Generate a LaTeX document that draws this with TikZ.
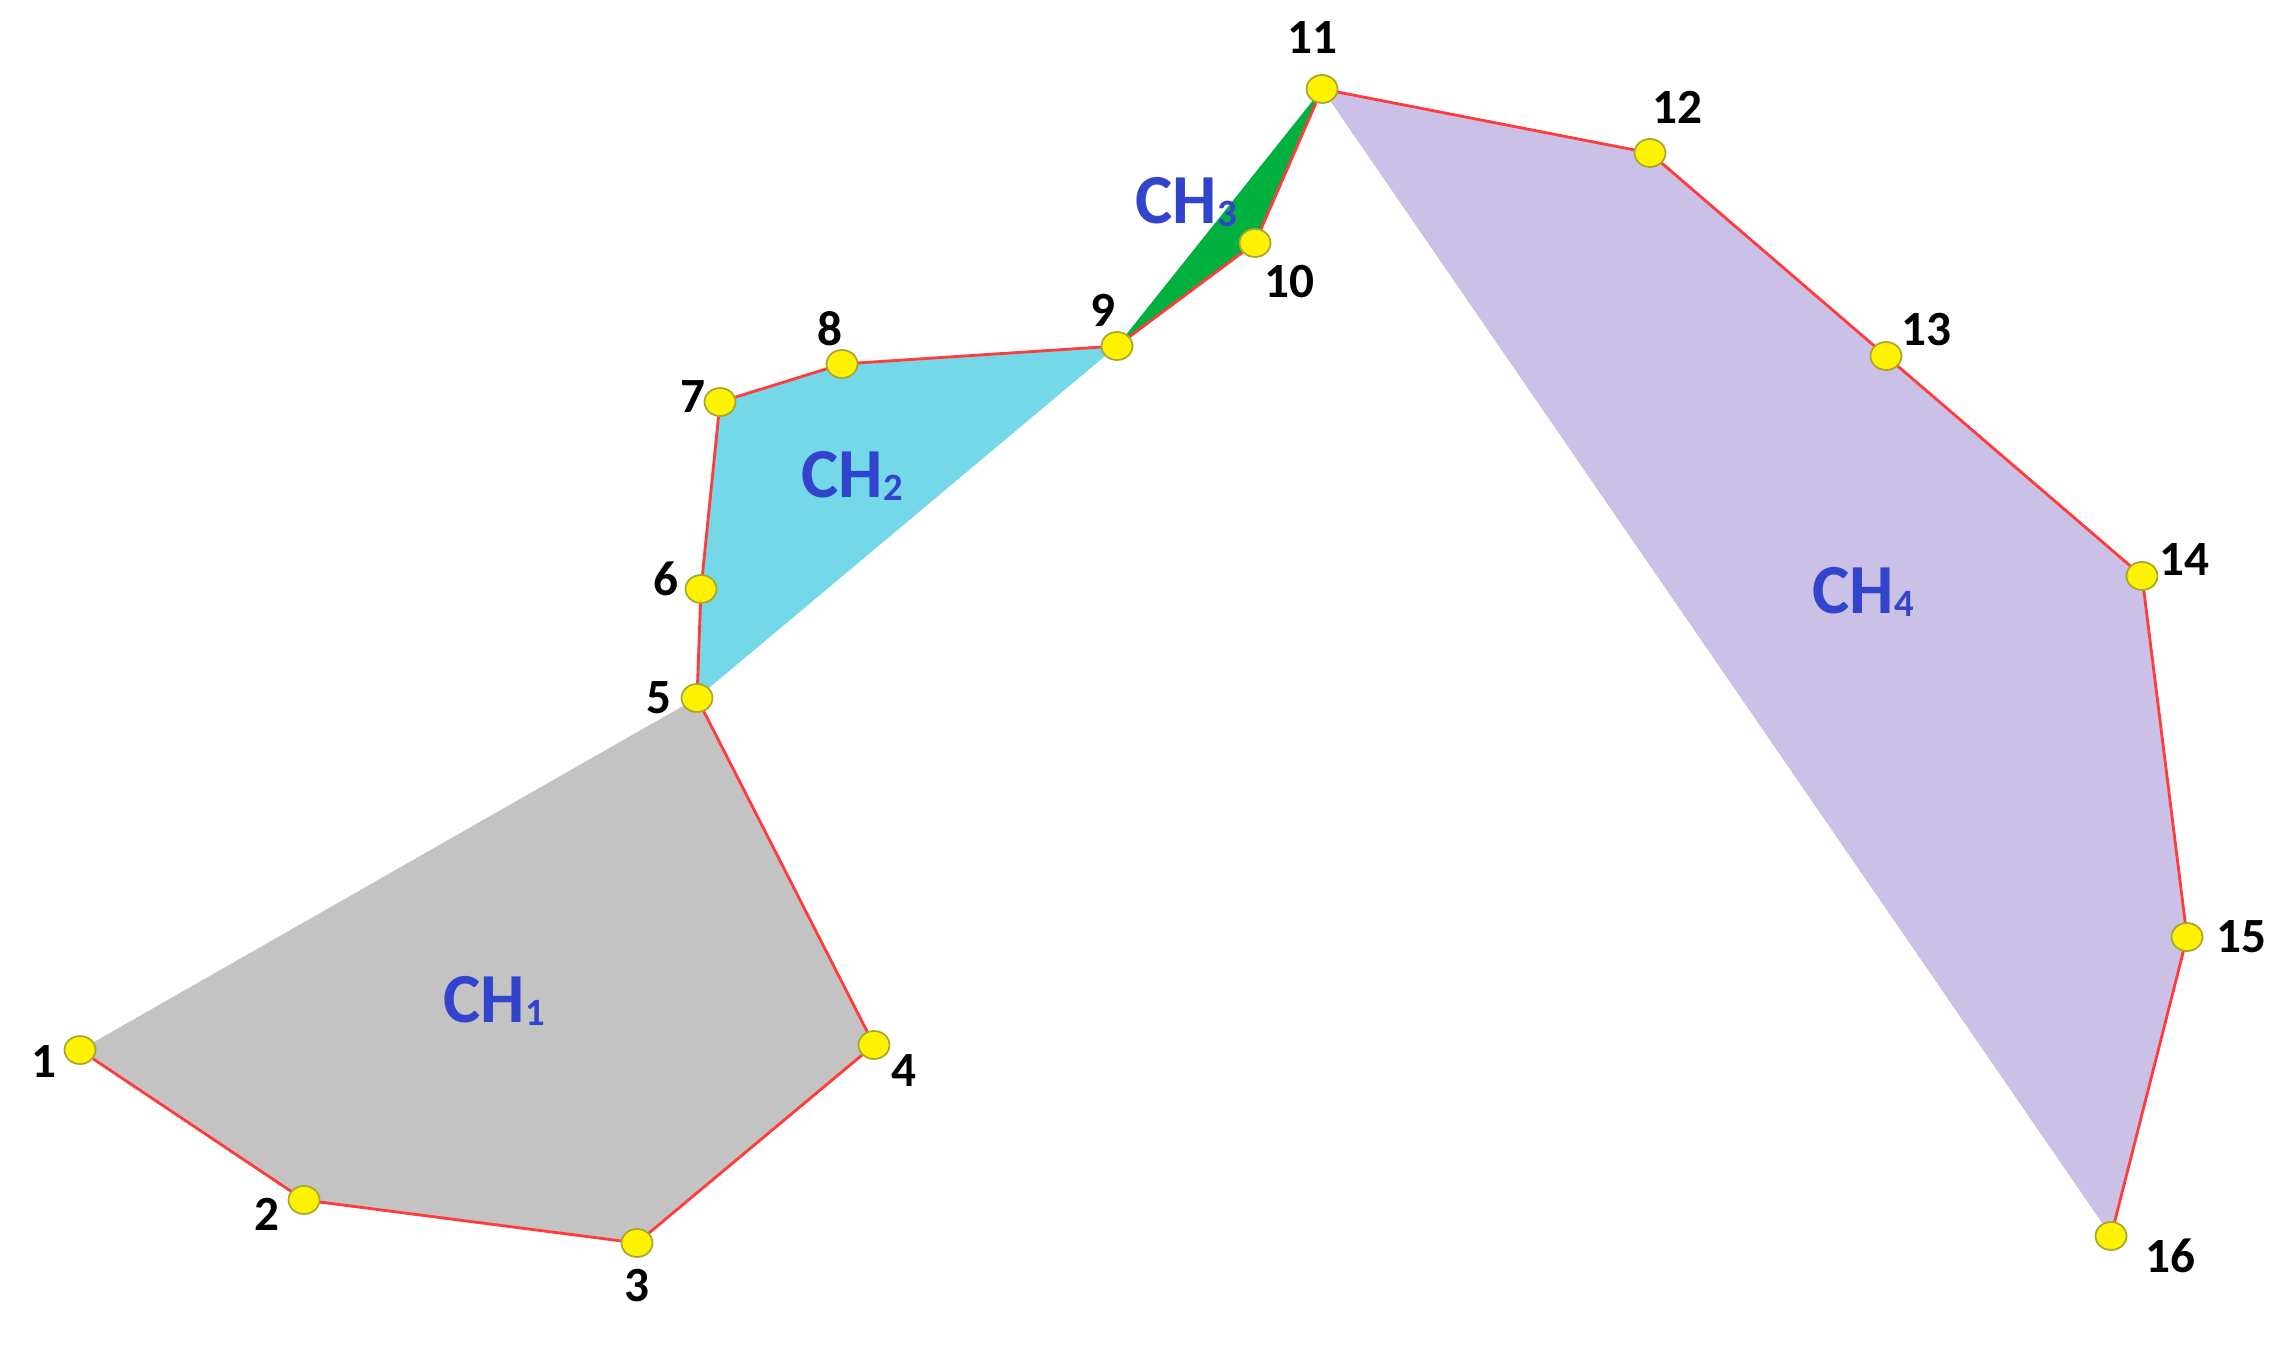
\documentclass[tikz,border=0pt]{standalone}
\usepackage{fontspec}
\setmainfont{Carlito}
\usepackage{xcolor}
\usepackage{tikz}
\usetikzlibrary{calc, shapes.geometric, positioning}

\definecolor{hullgray}{HTML}{C3C3C3}
\definecolor{hullcyan}{HTML}{75D8E8}
\definecolor{hullgreen}{HTML}{00B140}
\definecolor{hullviolet}{HTML}{CBC0E6}
\definecolor{chainred}{HTML}{FF3B3B}
\definecolor{chblue}{HTML}{3344CC}
\definecolor{dotedge}{HTML}{A8A830}

\tikzset{
    pt/.style={ellipse, fill=yellow, draw=dotedge, line width=0.5pt,
        minimum width=0.31cm, minimum height=0.28cm, inner sep=0pt},
    num/.style={font=\fontsize{14}{14}\selectfont\bfseries, text=black, inner sep=0pt},
    chname/.style={font=\fontsize{20}{20}\selectfont\bfseries, text=chblue, inner sep=0pt}
}
\newcommand{\chsub}[1]{{\fontsize{11}{11}\selectfont\raisebox{-1pt}{#1}}}

\begin{document}
\begin{tikzpicture}[x=0.01cm, y=-0.01cm]
    \useasboundingbox (0,0) rectangle (2291,1349);
    % 1. Cac dinh
    \coordinate (p1) at (80,1050);
    \coordinate (p2) at (304,1200);
    \coordinate (p3) at (637,1243);
    \coordinate (p4) at (874,1045);
    \coordinate (p5) at (697,698);
    \coordinate (p6) at (701,589);
    \coordinate (p7) at (720,402);
    \coordinate (p8) at (842,364);
    \coordinate (p9) at (1117,346);
    \coordinate (p10) at (1255,243);
    \coordinate (p11) at (1322,89);
    \coordinate (p12) at (1650,153);
    \coordinate (p13) at (1886,356);
    \coordinate (p14) at (2142,576);
    \coordinate (p15) at (2187,937);
    \coordinate (p16) at (2111,1236);

    % 2. Cac bao loi
    \fill[hullgray] (p1) -- (p2) -- (p3) -- (p4) -- (p5) -- cycle;
    \fill[hullcyan] (p5) -- (p6) -- (p7) -- (p8) -- (p9) -- cycle;
    \fill[hullgreen] (p9) -- (p10) -- (p11) -- cycle;
    \fill[hullviolet] (p11) -- (p12) -- (p13) -- (p14) -- (p15) -- (p16) -- cycle;

    % 3. Duong gap khuc
    \draw[chainred, line width=0.8pt, line join=round]
        (p1) \foreach \i in {2,...,16} { -- (p\i) };

    % 4. Cac diem
    \foreach \i in {1,...,16}
        \node[pt] (d\i) at (p\i) {};

    % 5. Nhan
    \node[num] (n1) at (44,1062) {1};
    \node[num] (n2) at (267,1214) {2};
    \node[num] (n3) at (637,1286) {3};
    \node[num] (n4) at (904,1071) {4};
    \node[num] (n5) at (659,698) {5};
    \node[num] (n6) at (666,579) {6};
    \node[num] (n7) at (693,397) {7};
    \node[num] (n8) at (830,329) {8};
    \node[num] (n9) at (1103,310) {9};
    \node[num] (n10) at (1289,282) {10};
    \node[num] (n11) at (1312,38) {11};
    \node[num] (n12) at (1677,107) {12};
    \node[num] (n13) at (1926,330) {13};
    \node[num] (n14) at (2184,560) {14};
    \node[num] (n15) at (2241,937) {15};
    \node[num] (n16) at (2170,1256) {16};

    \node[chname] (ch1) at (494,1001) {CH\chsub{1}};
    \node[chname] (ch2) at (852,476) {CH\chsub{2}};
    \node[chname] (ch3) at (1186,202) {CH\chsub{3}};
    \node[chname] (ch4) at (1863,592) {CH\chsub{4}};
\end{tikzpicture}
\end{document}
